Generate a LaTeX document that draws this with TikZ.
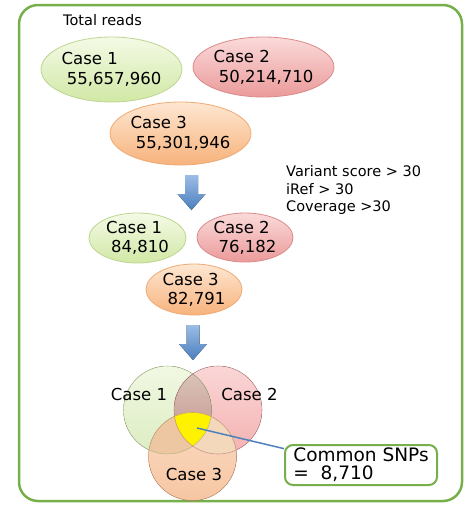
\documentclass[tikz,border=0pt]{standalone}
\usepackage{fontspec}
\setmainfont{DejaVu Sans}
\usetikzlibrary{shapes.geometric}
\definecolor{framegreen}{HTML}{77B04B}
\definecolor{gTop}{HTML}{F4FAE6}
\definecolor{gBot}{HTML}{D1E8A5}
\definecolor{gLine}{HTML}{BDD68F}
\definecolor{rTop}{HTML}{FBDADA}
\definecolor{rBot}{HTML}{EB9A9A}
\definecolor{rLine}{HTML}{D98A8A}
\definecolor{oTop}{HTML}{FEE7D2}
\definecolor{oBot}{HTML}{F7B27B}
\definecolor{oLine}{HTML}{EFAA74}
\definecolor{arrTop}{HTML}{9CBDE6}
\definecolor{arrBot}{HTML}{4A7EBE}
\definecolor{vGt}{HTML}{F1F8E3}
\definecolor{vGb}{HTML}{DCEDC2}
\definecolor{vRt}{HTML}{FAD6D6}
\definecolor{vRb}{HTML}{F4B2B2}
\definecolor{vOt}{HTML}{FADCC4}
\definecolor{vOb}{HTML}{F7C6A2}
\definecolor{vGRt}{HTML}{DCC8BA}
\definecolor{vGRb}{HTML}{C08C8C}
\definecolor{vGO}{HTML}{EDC6A2}
\definecolor{vRO}{HTML}{F3D8BC}
\definecolor{linkblue}{HTML}{4F81BD}
\begin{document}
\begin{tikzpicture}[x=1pt,y=-1pt,
  bigfont/.style={font=\fontsize{16.5}{20}\selectfont},
  midfont/.style={font=\fontsize{16.5}{19}\selectfont},
  caseG/.style={ellipse, inner sep=0pt, align=left, top color=gTop, bottom color=gBot, draw=gLine, line width=0.8pt},
  caseR/.style={ellipse, inner sep=0pt, align=left, top color=rTop, bottom color=rBot, draw=rLine, line width=0.8pt},
  caseO/.style={ellipse, inner sep=0pt, align=left, top color=oTop, bottom color=oBot, draw=oLine, line width=0.8pt},
  downarr/.pic={\fill[top color=arrTop, bottom color=arrBot] (-6.5,0) -- (6.5,0) -- (6.5,19) -- (14,19) -- (0,35) -- (-14,19) -- (-6.5,19) -- cycle;},
  callout/.style={draw=framegreen, line width=2pt, rounded corners=8pt, fill=white, minimum width=152pt, minimum height=40pt, inner sep=0pt, align=left, font=\fontsize{18.5}{18}\selectfont},
  link/.style={draw=linkblue, line width=1.5pt}
]
\useasboundingbox (0,0) rectangle (474,507);
% frame
\draw[framegreen, line width=2.5pt, rounded corners=19pt] (19,5) rectangle (462,501);
\node[anchor=base west, inner sep=0pt, font=\fontsize{14.5}{17}\selectfont] (total) at (63,25) {Total reads};
% first row
\node[caseG, bigfont, minimum width=133pt, minimum height=65pt] (t1) at (111.5,69.5) {Case 1\\\hspace*{5.2pt}55,657,960};
\node[caseR, bigfont, minimum width=133pt, minimum height=60pt] (t2) at (263.5,67) {Case 2\\\hspace*{5.2pt}50,214,710};
\node[caseO, bigfont, minimum width=135pt, minimum height=63pt] (t3) at (180.5,133.5) {Case 3\\\hspace*{5.2pt}55,301,946};
\pic at (191.5,175) {downarr};
\node[anchor=base west, inner sep=0pt, align=left, font=\fontsize{14.5}{17.5}\selectfont] (crit) at (286,211.7) {Variant score > 30\\iRef > 30\\Coverage >30};
% second row
\node[caseG, midfont, minimum width=97pt, minimum height=50pt] (f1) at (137.5,238) {Case 1\\\hspace*{5.2pt}84,810};
\node[caseR, midfont, minimum width=96pt, minimum height=49pt] (f2) at (245,237.5) {Case 2\\\hspace*{5.2pt}76,182};
\node[caseO, midfont, minimum width=96pt, minimum height=51pt] (f3) at (194,289.5) {Case 3\\\hspace*{5.2pt}82,791};
\pic at (193,325) {downarr};
% venn
\def\vA{(167.5,410) circle[radius=44pt]}
\def\vB{(218,410) circle[radius=44pt]}
\def\vC{(192.5,456.5) circle[radius=44pt]}
\fill[top color=vGt, bottom color=vGb] \vA;
\fill[top color=vRt, bottom color=vRb] \vB;
\fill[top color=vOt, bottom color=vOb] \vC;
\begin{scope}\clip \vA; \fill[top color=vGRt, bottom color=vGRb] \vB; \end{scope}
\begin{scope}\clip \vA; \fill[vGO] \vC; \end{scope}
\begin{scope}\clip \vB; \fill[vRO] \vC; \end{scope}
\begin{scope}\clip \vA; \clip \vB; \fill[yellow] \vC; \end{scope}
\draw[gLine!80!black, line width=0.6pt, opacity=0.6] \vA;
\draw[rLine!80!black, line width=0.6pt, opacity=0.6] \vB;
\draw[oLine!80!black, line width=0.6pt, opacity=0.6] \vC;
\node[anchor=base, inner sep=0pt, bigfont] (v1) at (139,400) {Case 1};
\node[anchor=base, inner sep=0pt, bigfont] (v2) at (249.5,400) {Case 2};
\node[anchor=base, inner sep=0pt, bigfont] (v3) at (194,480) {Case 3};
% callout
\coordinate (snp) at (197,428);
\node[callout] (common) at (361,465) {Common SNPs\\=\ \ 8,710};
\draw[link] (snp) -- (common.168);
\end{tikzpicture}
\end{document}
